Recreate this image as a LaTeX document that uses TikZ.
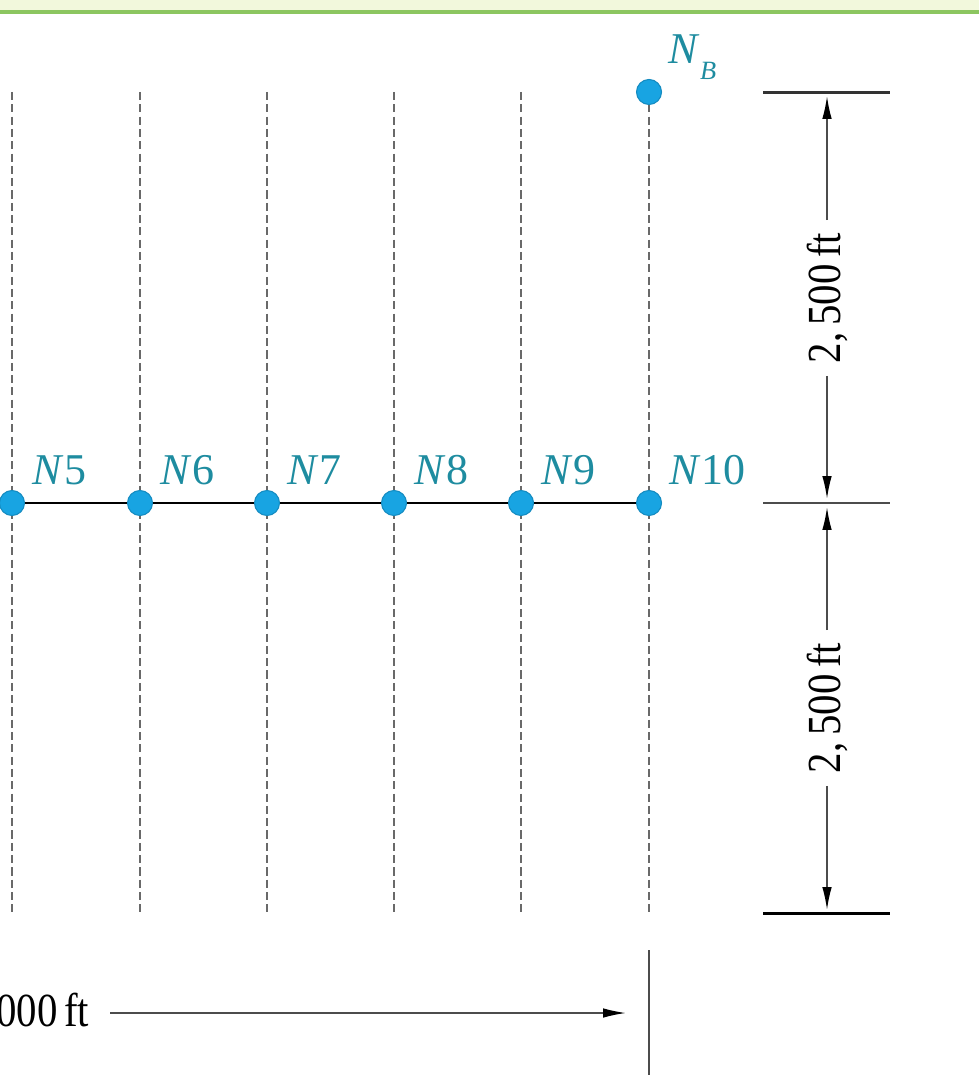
\documentclass[tikz,border=0pt]{standalone}
\usepackage{fontspec}
\setmainfont{Liberation Serif}
\usetikzlibrary{arrows.meta}
\definecolor{nodeblue}{RGB}{24,164,226}
\definecolor{labelteal}{RGB}{30,140,160}
\definecolor{bandfill}{RGB}{242,248,220}
\definecolor{bandline}{RGB}{140,198,96}
\definecolor{gridgray}{RGB}{105,105,105}
\begin{document}
\begin{tikzpicture}[x=0.01cm, y=-0.01cm,
    junction/.style={circle, fill=nodeblue, draw=nodeblue!85!black, line width=0.3pt,
        inner sep=0pt, minimum size=0.25cm},
    nlabel/.style={anchor=base west, text=labelteal, inner sep=0pt,
        font=\fontsize{12.5}{15}\selectfont},
    gridline/.style={gridgray, line width=0.45pt, dash pattern=on 2.3pt off 1.2pt},
    dimline/.style={black!70, line width=0.45pt},
    dimarrow/.style={dimline, -{Latex[length=6.5pt,width=2.7pt,black]}},
    dimtext/.style={font=\fontsize{13.5}{15}\selectfont, inner ysep=0pt, inner xsep=0.12cm}]

\useasboundingbox (0,0) rectangle (979,1092);
\clip (0,0) rectangle (979,1092);

% band at the top
\fill[bandfill] (0,0) rectangle (979,11);
\draw[bandline, line width=1.2pt] (0,12) -- (979,12);

% dashed verticals
\foreach \x in {12,140,267,394,521,649}
    \draw[gridline] (\x,92) -- (\x,912);

% junctions on the main line
\foreach \i/\x in {5/12,6/140,7/267,8/394,9/521,10/649}{
    \node[junction] (N\i) at (\x,503) {};
    \node[nlabel] (L\i) at (\x+20,485) {\textit{N}\i};
}
\coordinate (west) at (-10,503);
\draw[line width=0.85pt] (west) -- (N5) -- (N6) -- (N7) -- (N8) -- (N9) -- (N10);

\node[junction] (NB) at (649,92) {};
\node[nlabel] (LB) at (668,64) {\textit{N}\raisebox{-0.35em}{\fontsize{7.5}{8}\selectfont\textit{B}}};

% dimension on the right
\coordinate (t1a) at (763,93);  \coordinate (t1b) at (890,93);
\coordinate (t2a) at (763,503); \coordinate (t2b) at (890,503);
\coordinate (t3a) at (763,913); \coordinate (t3b) at (890,913);
\draw[black!80, line width=0.85pt] (t1a) -- (t1b);
\draw[dimline] (t2a) -- (t2b);
\draw[black, line width=0.85pt] (t3a) -- (t3b);

\node[dimtext, rotate=90] (D1) at (827,298) {\scalebox{0.86}[1]{2,\,500\,ft}};
\node[dimtext, rotate=90] (D2) at (827,708) {\scalebox{0.86}[1]{2,\,500\,ft}};
\coordinate (D1top) at (827,96);  \coordinate (D1bot) at (827,499);
\coordinate (D2top) at (827,507); \coordinate (D2bot) at (827,910);
\draw[dimarrow] (D1.east) -- (D1top);
\draw[dimarrow] (D1.west) -- (D1bot);
\draw[dimarrow] (D2.east) -- (D2top);
\draw[dimarrow] (D2.west) -- (D2bot);

% dimension at the bottom
\coordinate (b1) at (649,950); \coordinate (b2) at (649,1075);
\draw[dimline] (b1) -- (b2);
\node[dimtext, anchor=east, inner xsep=0.2cm] (D3) at (110,1013) {\scalebox{0.86}[1]{5,\,000\,ft}};
\coordinate (D3tip) at (626,1013);
\draw[dimarrow] (D3.east) -- (D3tip);

\end{tikzpicture}
\end{document}
